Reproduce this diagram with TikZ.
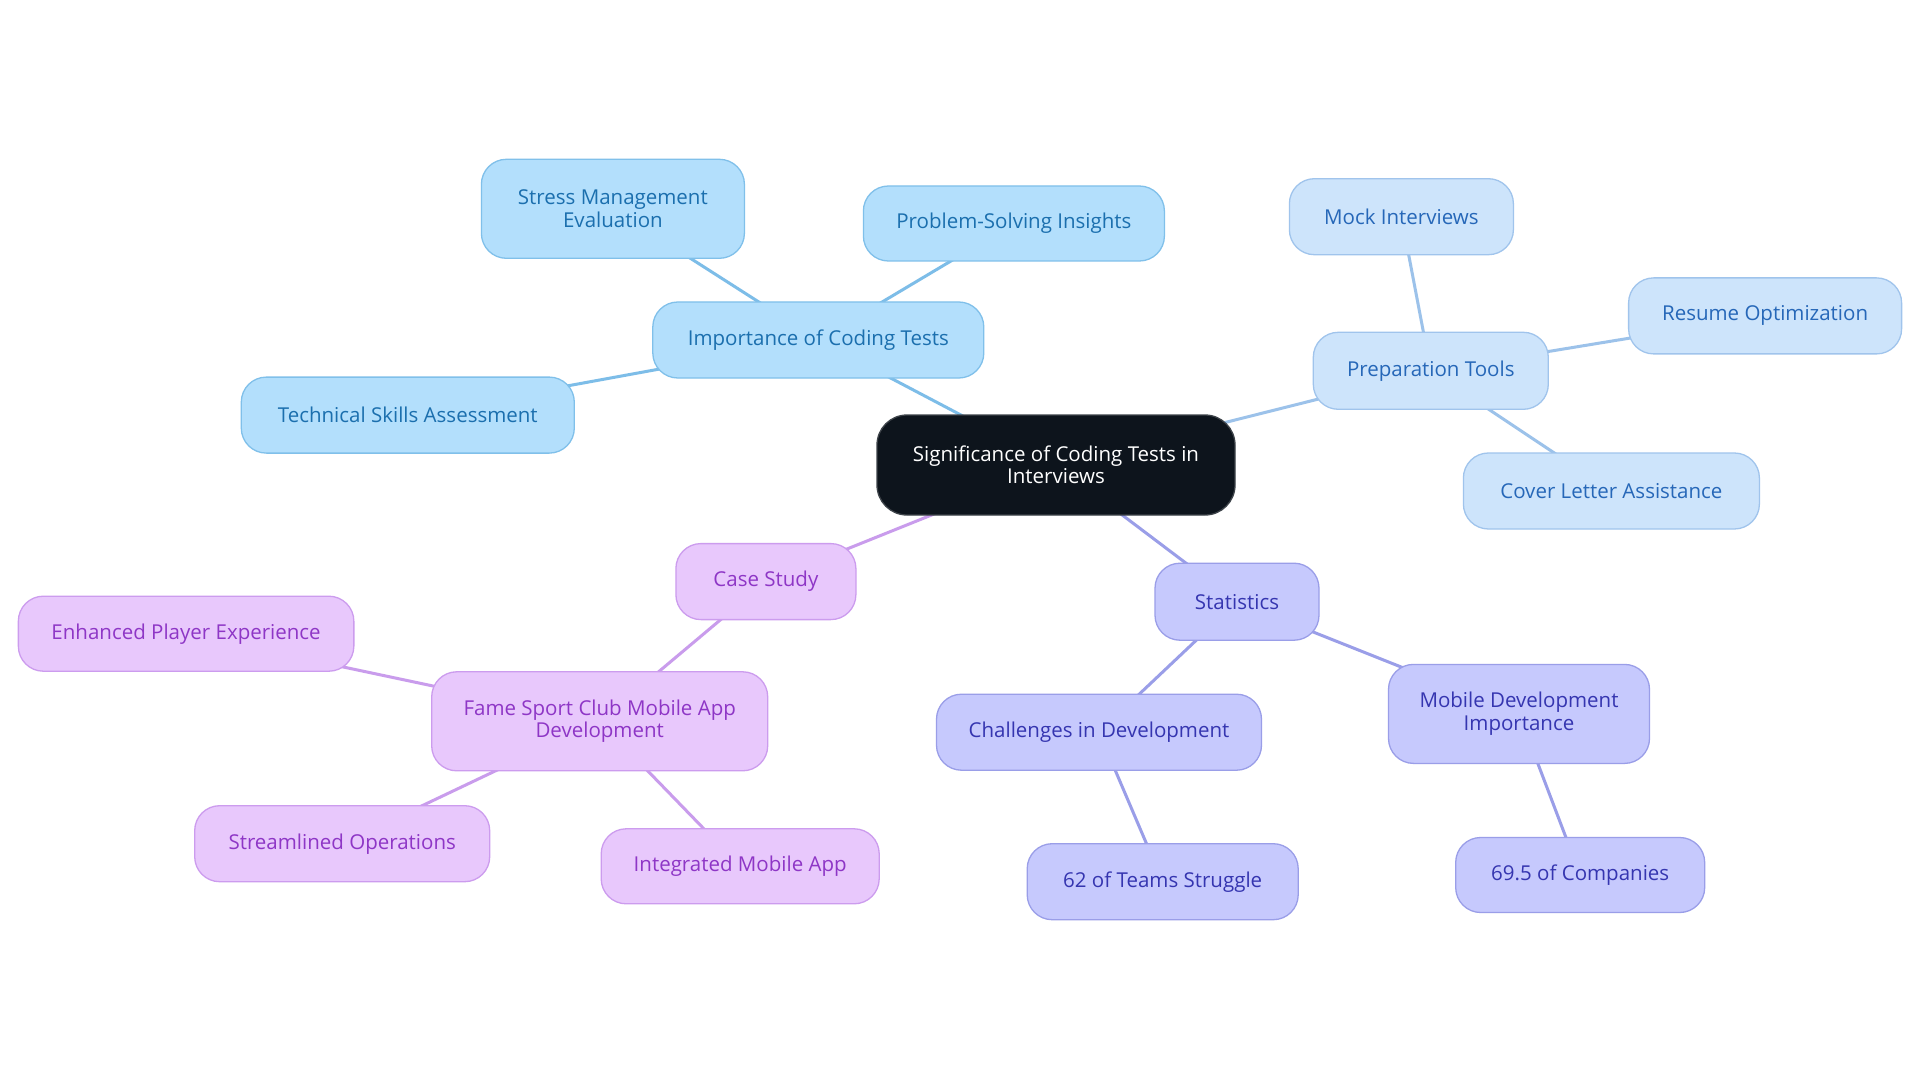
\documentclass[tikz,border=0pt]{standalone}
\usepackage{fontspec}
\setmainfont{Open Sans}
\newfontfamily\mmfont{Open Sans}
\pgfdeclarelayer{bg}
\pgfdeclarelayer{edges}
\pgfsetlayers{bg,edges,main}
\definecolor{cAfill}{HTML}{B3DFFC}
\definecolor{cAdraw}{HTML}{80C0EA}
\definecolor{cAtext}{HTML}{1B6FAE}
\definecolor{cAedge}{HTML}{7DBDE8}
\definecolor{cBfill}{HTML}{CDE4FB}
\definecolor{cBdraw}{HTML}{A0C4EC}
\definecolor{cBtext}{HTML}{2667B8}
\definecolor{cBedge}{HTML}{9CC2EA}
\definecolor{cCfill}{HTML}{C6C9FD}
\definecolor{cCdraw}{HTML}{9A9EE8}
\definecolor{cCtext}{HTML}{3535B0}
\definecolor{cCedge}{HTML}{9A9EE8}
\definecolor{cDfill}{HTML}{E8C8FC}
\definecolor{cDdraw}{HTML}{CC9CEE}
\definecolor{cDtext}{HTML}{8E36C6}
\definecolor{cDedge}{HTML}{C99CEC}
\definecolor{cRoot}{HTML}{0D141C}
\tikzset{
  mmbox/.style={rounded corners=25pt, line width=1.3pt, inner sep=0pt, align=center,
    font=\fontsize{20.5pt}{22.5pt}\selectfont, minimum height=76pt},
  tall/.style={minimum height=99pt},
  grpA/.style={mmbox, fill=cAfill, draw=cAdraw, text=cAtext},
  grpB/.style={mmbox, fill=cBfill, draw=cBdraw, text=cBtext},
  grpC/.style={mmbox, fill=cCfill, draw=cCdraw, text=cCtext},
  grpD/.style={mmbox, fill=cDfill, draw=cDdraw, text=cDtext},
  rootbox/.style={mmbox, rounded corners=30pt, fill=cRoot, draw=cRoot!80!white, text=white, minimum height=100pt},
  edgeA/.style={line width=3pt, draw=cAedge},
  edgeB/.style={line width=3pt, draw=cBedge},
  edgeC/.style={line width=3pt, draw=cCedge},
  edgeD/.style={line width=3pt, draw=cDedge},
}
\begin{document}
\begin{tikzpicture}[x=1pt,y=-1pt]
\begin{pgfonlayer}{bg}
\fill[white] (0,0) rectangle (1920,1083);
\end{pgfonlayer}
\useasboundingbox (0,0) rectangle (1920,1083);

% root
\node[rootbox, minimum width=358pt] (root) at (1056,465) {Significance of Coding Tests in\\Interviews};

% group A
\node[grpA, minimum width=331pt] (imp) at (818.3,340) {Importance of Coding Tests};
\node[grpA, tall, minimum width=263pt] (stress) at (612.9,208.8) {Stress Management\\Evaluation};
\node[grpA, minimum width=301pt, minimum height=75pt] (prob) at (1013.9,223.5) {Problem-Solving Insights};
\node[grpA, minimum width=333pt] (tech) at (407.8,415.1) {Technical Skills Assessment};

% group B
\node[grpB, minimum width=235pt, minimum height=77pt] (prep) at (1430.8,370.8) {Preparation Tools};
\node[grpB, minimum width=224pt] (mock) at (1401.4,216.7) {Mock Interviews};
\node[grpB, minimum width=273pt] (resume) at (1765.1,315.9) {Resume Optimization};
\node[grpB, minimum width=296pt] (cover) at (1611.4,491.0) {Cover Letter Assistance};

% group C
\node[grpC, minimum width=164pt, minimum height=77pt] (stats) at (1237,601.7) {Statistics};
\node[grpC, minimum width=325pt] (chall) at (1099,732.2) {Challenges in Development};
\node[grpC, tall, minimum width=261pt] (mobile) at (1519,713.9) {Mobile Development\\Importance};
\node[grpC, minimum width=271pt] (teams) at (1162.7,881.7) {62 of Teams Struggle};
\node[grpC, minimum width=249pt, minimum height=75pt] (comp) at (1580.2,875) {69.5 of Companies};

% group D
\node[grpD, minimum width=180pt] (case) at (765.9,581.6) {Case Study};
\node[grpD, tall, minimum width=336pt] (fame) at (599.7,721.3) {Fame Sport Club Mobile App\\Development};
\node[grpD, minimum width=335.5pt, minimum height=75pt] (enh) at (186.1,633.7) {Enhanced Player Experience};
\node[grpD, minimum width=295pt] (stream) at (342.2,843.7) {Streamlined Operations};
\node[grpD, minimum width=278pt, minimum height=75pt] (integ) at (740.2,866.3) {Integrated Mobile App};

\begin{pgfonlayer}{edges}
\draw[edgeA] (root.center) -- (imp.center);
\draw[edgeA] (imp.center) -- (stress.center);
\draw[edgeA] (imp.center) -- (prob.center);
\draw[edgeA] (imp.center) -- (tech.center);
\draw[edgeB] (root.center) -- (prep.center);
\draw[edgeB] (prep.center) -- (mock.center);
\draw[edgeB] (prep.center) -- (resume.center);
\draw[edgeB] (prep.center) -- (cover.center);
\draw[edgeC] (root.center) -- (stats.center);
\draw[edgeC] (stats.center) -- (chall.center);
\draw[edgeC] (stats.center) -- (mobile.center);
\draw[edgeC] (chall.center) -- (teams.center);
\draw[edgeC] (mobile.center) -- (comp.center);
\draw[edgeD] (root.center) -- (case.center);
\draw[edgeD] (case.center) -- (fame.center);
\draw[edgeD] (fame.center) -- (enh.center);
\draw[edgeD] (fame.center) -- (stream.center);
\draw[edgeD] (fame.center) -- (integ.center);
\end{pgfonlayer}
\end{tikzpicture}
\end{document}
